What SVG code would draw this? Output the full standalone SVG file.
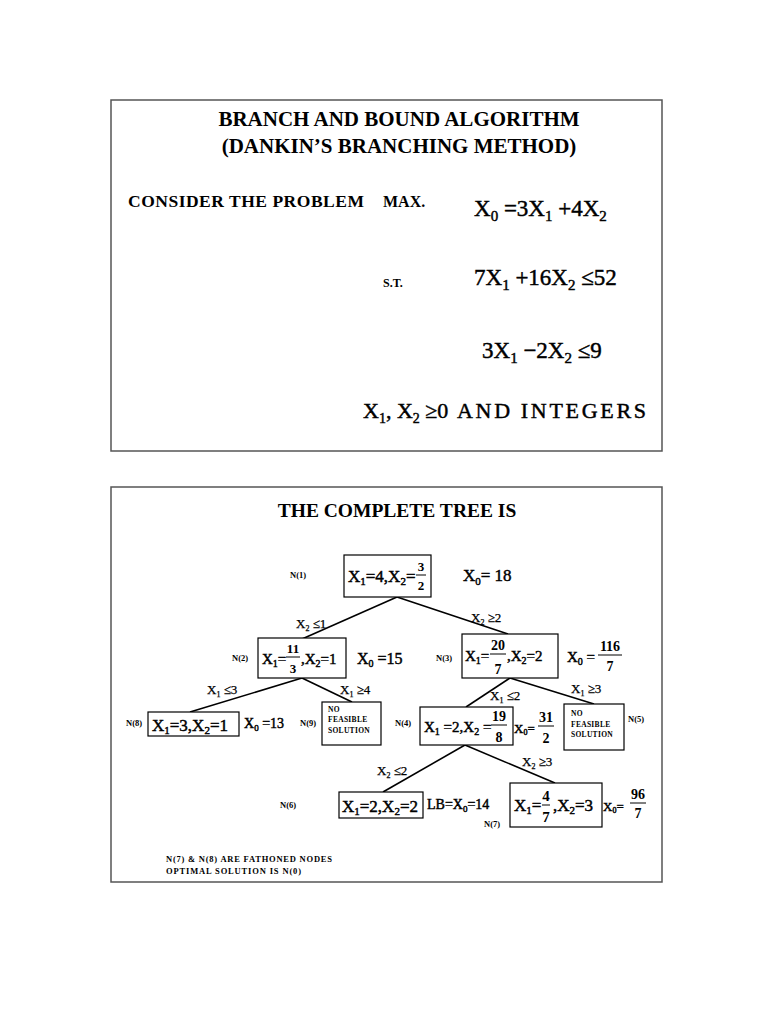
<svg xmlns="http://www.w3.org/2000/svg" width="768" height="1024" viewBox="0 0 768 1024">
<style>
text{font-family:"Liberation Serif","Times New Roman",serif;fill:#000}
.b{font-weight:bold}
.eq{stroke:#000;stroke-width:0.45}
.frame{fill:#fff;stroke:#555;stroke-width:1.5}
.nb{fill:#fff;stroke:#000;stroke-width:1.2}
.conn line{stroke:#000;stroke-width:1.6}
.fl{stroke:#000;stroke-width:1}
.lab{font-size:8.5px;font-weight:bold}
.el{font-size:13px;stroke:#000;stroke-width:0.25}
.nf{font-size:7.5px;font-weight:bold;letter-spacing:0.3px}
</style>
<rect width="768" height="1024" fill="#fff"/>

<g id="problem">
<rect class="frame" x="111" y="100" width="551" height="351"/>
<text class="b" x="399" y="126" font-size="21" text-anchor="middle">BRANCH AND BOUND ALGORITHM</text>
<text class="b" x="399" y="153" font-size="21" text-anchor="middle">(DANKIN’S BRANCHING METHOD)</text>
<text class="b" x="128" y="207" font-size="17.5" textLength="236">CONSIDER THE PROBLEM</text>
<text class="b" x="383" y="207" font-size="16">MAX.</text>
<text class="eq" x="474" y="216" font-size="23">X<tspan font-size="15" dy="5">0</tspan><tspan dy="-5"> =3X</tspan><tspan font-size="15" dy="5">1</tspan><tspan dy="-5"> +4X</tspan><tspan font-size="15" dy="5">2</tspan></text>
<text class="b" x="383" y="287" font-size="12">S.T.</text>
<text class="eq" x="474" y="285" font-size="23">7X<tspan font-size="15" dy="5">1</tspan><tspan dy="-5"> +16X</tspan><tspan font-size="15" dy="5">2</tspan><tspan dy="-5"> ≤52</tspan></text>
<text class="eq" x="482" y="358" font-size="23">3X<tspan font-size="15" dy="5">1</tspan><tspan dy="-5"> −2X</tspan><tspan font-size="15" dy="5">2</tspan><tspan dy="-5"> ≤9</tspan></text>
<text class="eq" x="363" y="418" font-size="22">X<tspan font-size="14" dy="5">1</tspan><tspan dy="-5">, X</tspan><tspan font-size="14" dy="5">2</tspan><tspan dy="-5"> ≥0</tspan></text>
<text class="eq" x="457" y="418" font-size="22" textLength="189">AND INTEGERS</text>
</g>

<g id="tree-frame">
<rect class="frame" x="111" y="487" width="551" height="395"/>
<text class="b" x="397" y="517" font-size="19.5" text-anchor="middle">THE COMPLETE TREE IS</text>
</g>

<g id="connectors" class="conn">
<line x1="397" y1="597" x2="302" y2="639"/>
<line x1="397" y1="597" x2="508" y2="634"/>
<line x1="302" y1="678" x2="190" y2="712"/>
<line x1="302" y1="678" x2="352" y2="702"/>
<line x1="510" y1="678" x2="466" y2="707"/>
<line x1="510" y1="678" x2="594" y2="704"/>
<line x1="465" y1="745" x2="383" y2="792"/>
<line x1="465" y1="745" x2="555" y2="783"/>
</g>

<g id="edge-labels">
<text class="el" x="296" y="628">X<tspan font-size="8" dy="3">2</tspan><tspan dy="-3"> ≤1</tspan></text>
<text class="el" x="471" y="622">X<tspan font-size="8" dy="3">2</tspan><tspan dy="-3"> ≥2</tspan></text>
<text class="el" x="207" y="694">X<tspan font-size="8" dy="3">1</tspan><tspan dy="-3"> ≤3</tspan></text>
<text class="el" x="340" y="694">X<tspan font-size="8" dy="3">1</tspan><tspan dy="-3"> ≥4</tspan></text>
<text class="el" x="490" y="700">X<tspan font-size="8" dy="3">1</tspan><tspan dy="-3"> ≤2</tspan></text>
<text class="el" x="571" y="693">X<tspan font-size="8" dy="3">1</tspan><tspan dy="-3"> ≥3</tspan></text>
<text class="el" x="377" y="775">X<tspan font-size="8" dy="3">2</tspan><tspan dy="-3"> ≤2</tspan></text>
<text class="el" x="522" y="766">X<tspan font-size="8" dy="3">2</tspan><tspan dy="-3"> ≥3</tspan></text>
</g>

<g id="N1">
<text class="lab" x="290" y="578">N(1)</text>
<rect class="nb" x="344" y="555" width="87" height="42"/>
<text class="eq" x="348" y="582" font-size="17" stroke-width="0.3">X<tspan font-size="11" dy="3">1</tspan><tspan dy="-3">=4,X</tspan><tspan font-size="11" dy="3">2</tspan><tspan dy="-3">=</tspan></text>
<text class="b" x="421" y="571" font-size="13" text-anchor="middle">3</text>
<line class="fl" x1="416" y1="575" x2="426" y2="575"/>
<text class="b" x="421" y="590" font-size="13" text-anchor="middle">2</text>
<text class="eq" x="463" y="581" font-size="17" stroke-width="0.3">X<tspan font-size="11" dy="4">0</tspan><tspan dy="-4">= 18</tspan></text>
</g>

<g id="N2">
<text class="lab" x="232" y="661">N(2)</text>
<rect class="nb" x="258" y="638" width="88" height="40"/>
<text class="eq" x="262" y="664" font-size="15" stroke-width="0.3">X<tspan font-size="10" dy="3">1</tspan><tspan dy="-3">=</tspan></text>
<text class="b" x="293" y="653" font-size="13" text-anchor="middle">11</text>
<line class="fl" x1="286" y1="657" x2="300" y2="657"/>
<text class="b" x="293" y="673" font-size="13" text-anchor="middle">3</text>
<text class="eq" x="301" y="664" font-size="15" stroke-width="0.3">,X<tspan font-size="10" dy="3">2</tspan><tspan dy="-3">=1</tspan></text>
<text class="eq" x="357" y="664" font-size="16" stroke-width="0.3">X<tspan font-size="10" dy="3">0</tspan><tspan dy="-3"> =15</tspan></text>
</g>

<g id="N3">
<text class="lab" x="436" y="661">N(3)</text>
<rect class="nb" x="462" y="634" width="96" height="44"/>
<text class="eq" x="465" y="661" font-size="15" stroke-width="0.3">X<tspan font-size="10" dy="3">1</tspan><tspan dy="-3">=</tspan></text>
<text class="b" x="498" y="650" font-size="14" text-anchor="middle">20</text>
<line class="fl" x1="490" y1="654" x2="506" y2="654"/>
<text class="b" x="498" y="674" font-size="14" text-anchor="middle">7</text>
<text class="eq" x="507" y="661" font-size="15" stroke-width="0.3">,X<tspan font-size="10" dy="3">2</tspan><tspan dy="-3">=2</tspan></text>
<text class="eq" x="567" y="662" font-size="15" stroke-width="0.3">X<tspan font-size="10" dy="3">0</tspan><tspan dy="-3"> =</tspan></text>
<text class="b" x="610" y="651" font-size="14" text-anchor="middle">116</text>
<line class="fl" x1="598" y1="655" x2="622" y2="655"/>
<text class="b" x="610" y="671" font-size="14" text-anchor="middle">7</text>
</g>

<g id="N8">
<text class="lab" x="126" y="726">N(8)</text>
<rect class="nb" x="148" y="712" width="91" height="24"/>
<text class="eq" x="152" y="731" font-size="17" stroke-width="0.3">X<tspan font-size="11" dy="3">1</tspan><tspan dy="-3">=3,X</tspan><tspan font-size="11" dy="3">2</tspan><tspan dy="-3">=1</tspan></text>
<text class="eq" x="244" y="728" font-size="14" stroke-width="0.3">X<tspan font-size="9" dy="3">0</tspan><tspan dy="-3"> =13</tspan></text>
</g>

<g id="N9">
<text class="lab" x="300" y="726">N(9)</text>
<rect class="nb" x="322" y="702" width="59" height="43"/>
<text class="nf" x="328" y="712">NO</text>
<text class="nf" x="328" y="722">FEASIBLE</text>
<text class="nf" x="328" y="733">SOLUTION</text>
</g>

<g id="N4">
<text class="lab" x="395" y="726">N(4)</text>
<rect class="nb" x="420" y="707" width="93" height="38"/>
<text class="eq" x="424" y="732" font-size="15" stroke-width="0.3">X<tspan font-size="10" dy="3">1</tspan><tspan dy="-3"> =2,X</tspan><tspan font-size="10" dy="3">2</tspan><tspan dy="-3"> =</tspan></text>
<text class="b" x="499" y="721" font-size="14" text-anchor="middle">19</text>
<line class="fl" x1="491" y1="725" x2="507" y2="725"/>
<text class="b" x="499" y="742" font-size="14" text-anchor="middle">8</text>
<text class="eq" x="514" y="733" font-size="13" stroke-width="0.3">X<tspan font-size="8" dy="2">0</tspan><tspan dy="-2">=</tspan></text>
<text class="b" x="546" y="722" font-size="14" text-anchor="middle">31</text>
<line class="fl" x1="538" y1="726" x2="554" y2="726"/>
<text class="b" x="546" y="743" font-size="14" text-anchor="middle">2</text>
</g>

<g id="N5">
<rect class="nb" x="564" y="704" width="60" height="46"/>
<text class="nf" x="571" y="716">NO</text>
<text class="nf" x="571" y="727">FEASIBLE</text>
<text class="nf" x="571" y="737">SOLUTION</text>
<text class="lab" x="628" y="722">N(5)</text>
</g>

<g id="N6">
<text class="lab" x="280" y="808">N(6)</text>
<rect class="nb" x="339" y="792" width="84" height="26"/>
<text class="eq" x="342" y="812" font-size="17" stroke-width="0.3">X<tspan font-size="11" dy="3">1</tspan><tspan dy="-3">=2,X</tspan><tspan font-size="11" dy="3">2</tspan><tspan dy="-3">=2</tspan></text>
<text class="eq" x="427" y="809" font-size="14" stroke-width="0.3">LB=X<tspan font-size="9" dy="3">0</tspan><tspan dy="-3">=14</tspan></text>
</g>

<g id="N7">
<text class="lab" x="484" y="827">N(7)</text>
<rect class="nb" x="510" y="783" width="92" height="44"/>
<text class="eq" x="514" y="811" font-size="17" stroke-width="0.3">X<tspan font-size="11" dy="3">1</tspan><tspan dy="-3">=</tspan></text>
<text class="b" x="546" y="801" font-size="15" text-anchor="middle">4</text>
<line class="fl" x1="542" y1="805" x2="550" y2="805"/>
<text class="b" x="546" y="822" font-size="15" text-anchor="middle">7</text>
<text class="eq" x="553" y="811" font-size="17" stroke-width="0.3">,X<tspan font-size="11" dy="3">2</tspan><tspan dy="-3">=3</tspan></text>
<text class="eq" x="603" y="811" font-size="13" stroke-width="0.3">X<tspan font-size="8" dy="2">0</tspan><tspan dy="-2">=</tspan></text>
<text class="b" x="638" y="799" font-size="14" text-anchor="middle">96</text>
<line class="fl" x1="630" y1="803" x2="646" y2="803"/>
<text class="b" x="638" y="818" font-size="14" text-anchor="middle">7</text>
</g>

<g id="footer">
<text class="lab" x="166" y="862" textLength="166">N(7) &amp; N(8) ARE FATHONED NODES</text>
<text class="lab" x="166" y="874" textLength="135">OPTIMAL SOLUTION IS N(0)</text>
</g>
</svg>
